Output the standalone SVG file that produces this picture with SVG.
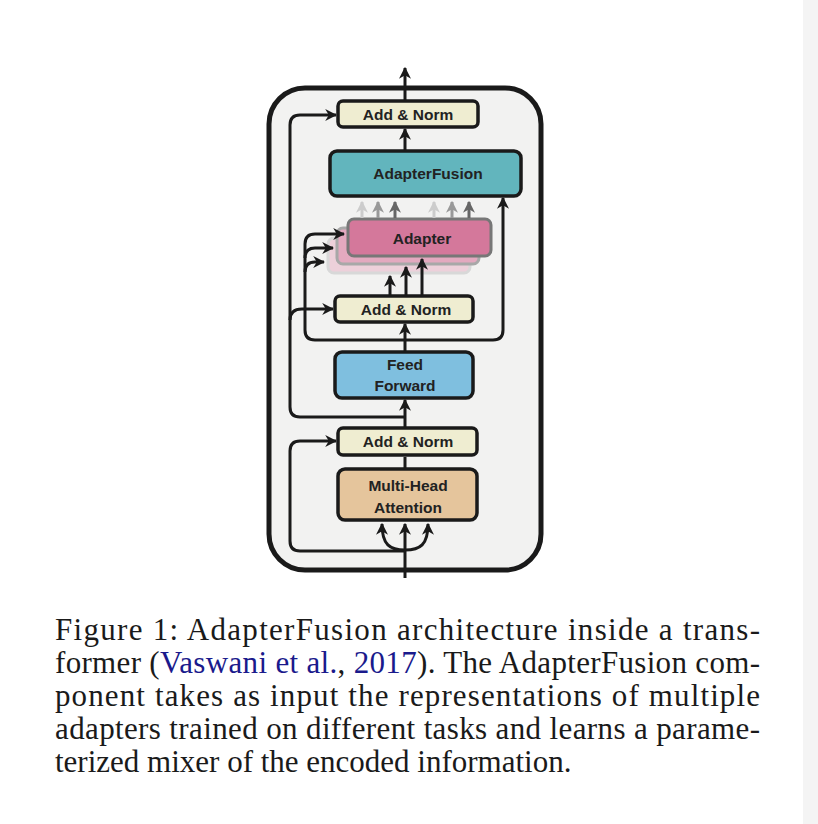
<svg xmlns="http://www.w3.org/2000/svg" width="818" height="824" viewBox="0 0 818 824">
<defs>
<style>
.b{stroke:#1a1a1a;stroke-width:3.5}
.t{font-family:"Liberation Sans",Arial,sans-serif;font-size:15.5px;font-weight:bold;fill:#222;text-anchor:middle}
.c{stroke:#1a1a1a;stroke-width:3;fill:none}
.g{stroke-width:3;fill:none}
.cap{font-family:"Liberation Serif","Times New Roman",serif;font-size:31px;fill:#1a1a1a}
</style>
<marker id="a" viewBox="0 0 10 10" refX="9" refY="5" markerWidth="4" markerHeight="4" orient="auto-start-reverse" markerUnits="strokeWidth"><path d="M0,0 L10,5 L0,10 L3,5 z" fill="#1a1a1a"/></marker>
<marker id="a1" viewBox="0 0 10 10" refX="9" refY="5" markerWidth="4" markerHeight="4" orient="auto" markerUnits="strokeWidth"><path d="M0,0 L10,5 L0,10 L3,5 z" fill="#666"/></marker>
<marker id="a2" viewBox="0 0 10 10" refX="9" refY="5" markerWidth="4" markerHeight="4" orient="auto" markerUnits="strokeWidth"><path d="M0,0 L10,5 L0,10 L3,5 z" fill="#999"/></marker>
<marker id="a3" viewBox="0 0 10 10" refX="9" refY="5" markerWidth="4" markerHeight="4" orient="auto" markerUnits="strokeWidth"><path d="M0,0 L10,5 L0,10 L3,5 z" fill="#ccc"/></marker>
</defs>
<rect width="818" height="824" fill="#fff"/>
<rect x="803" y="0" width="15" height="824" fill="#f4f4f4"/>
<g id="outer"><rect x="269" y="88" width="272" height="482" rx="36" fill="#f2f2f1" stroke="#1a1a1a" stroke-width="5"/></g>
<g id="adapter">
<rect x="328" y="238" width="142" height="35" rx="6" fill="#edd0da" stroke="#d8d8d8" stroke-width="3"/>
<rect x="337" y="228" width="142" height="36" rx="6" fill="#e3a9bf" stroke="#a8a8a8" stroke-width="3"/>
<rect x="348" y="219" width="143" height="37" rx="6" fill="#d4789b" stroke="#777" stroke-width="3"/>
<text class="t" x="422" y="244">Adapter</text></g>
<g id="connectors">
<path class="c" d="M405,578 V524" marker-end="url(#a)"/>
<path class="c" d="M405,550 C390,550 382,545 382,524" marker-end="url(#a)"/>
<path class="c" d="M405,550 C420,550 428,545 428,524" marker-end="url(#a)"/>
<path class="c" d="M405,551 H300 Q290,551 290,541 V451 Q290,441 300,441 H336" marker-end="url(#a)"/>
<path class="c" d="M405,469 V457"/>
<path class="c" d="M405,428 V400" marker-end="url(#a)"/>
<path class="c" d="M405,417 H300 Q290,417 290,407 V125 Q290,115 300,115 H336" marker-end="url(#a)"/>
<path class="c" d="M290,320 Q290,309 302,309 H333" marker-end="url(#a)"/>
<path class="c" d="M405,352 V324" marker-end="url(#a)"/>
<path class="c" d="M405,340 H493 Q503,340 503,330 V198" marker-end="url(#a)"/>
<path class="c" d="M405,340 H315 Q305,340 305,330 V244 Q305,234 315,234 H344" marker-end="url(#a)"/>
<path class="c" d="M305,258 Q305,248 315,248 H333" marker-end="url(#a)"/>
<path class="c" d="M305,272 Q305,262 315,262 H324" marker-end="url(#a)"/>
<path class="c" d="M390,296 V276" marker-end="url(#a)"/>
<path class="c" d="M406,296 V267" marker-end="url(#a)"/>
<path class="c" d="M422,296 V259" marker-end="url(#a)"/>
<path class="g" stroke="#ccc" d="M362,218 V202" marker-end="url(#a3)"/>
<path class="g" stroke="#999" d="M378,218 V202" marker-end="url(#a2)"/>
<path class="g" stroke="#666" d="M395,218 V202" marker-end="url(#a1)"/>
<path class="g" stroke="#ccc" d="M434,218 V202" marker-end="url(#a3)"/>
<path class="g" stroke="#999" d="M452,218 V202" marker-end="url(#a2)"/>
<path class="g" stroke="#666" d="M469,218 V202" marker-end="url(#a1)"/>
<path class="c" d="M405,151 V129" marker-end="url(#a)"/>
<path class="c" d="M405,101 V68" marker-end="url(#a)"/>
</g>
<g id="addnorm-top"><rect class="b" x="338" y="101" width="140" height="26" rx="5" fill="#efedd1"/><text class="t" x="408" y="120">Add &amp; Norm</text></g>
<g id="adapterfusion"><rect class="b" x="330" y="151" width="191" height="45" rx="7" fill="#62b5bd"/><text class="t" x="428" y="179">AdapterFusion</text></g>
<g id="addnorm-mid"><rect class="b" x="335" y="296" width="138" height="26" rx="5" fill="#efedd1"/><text class="t" x="406" y="315">Add &amp; Norm</text></g>
<g id="feedforward"><rect class="b" x="335" y="352" width="138" height="46" rx="7" fill="#7fbfdf"/><text class="t" x="405" y="370">Feed</text><text class="t" x="405" y="391">Forward</text></g>
<g id="addnorm-low"><rect class="b" x="338" y="428" width="139" height="27" rx="5" fill="#efedd1"/><text class="t" x="408" y="447">Add &amp; Norm</text></g>
<g id="mha"><rect class="b" x="338" y="469" width="139" height="51" rx="7" fill="#e5c59c"/><text class="t" x="408" y="491">Multi-Head</text><text class="t" x="408" y="513">Attention</text></g>
<g id="caption">
<text class="cap" x="55" y="640" textLength="705" lengthAdjust="spacing">Figure 1:  AdapterFusion architecture inside a trans-</text>
<text class="cap" x="55" y="673" textLength="705" lengthAdjust="spacing">former (<tspan fill="#1a1a8c">Vaswani et al.</tspan>, <tspan fill="#1a1a8c">2017</tspan>). The AdapterFusion com-</text>
<text class="cap" x="55" y="706" textLength="705" lengthAdjust="spacing">ponent takes as input the representations of multiple</text>
<text class="cap" x="55" y="739" textLength="705" lengthAdjust="spacing">adapters trained on different tasks and learns a parame-</text>
<text class="cap" x="55" y="772">terized mixer of the encoded information.</text>
</g>
</svg>
